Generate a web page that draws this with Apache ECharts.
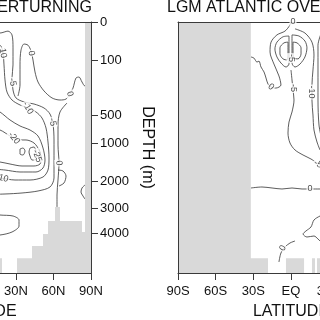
<!DOCTYPE html>
<html><head><meta charset="utf-8">
<script src="https://cdn.jsdelivr.net/npm/echarts@6.0.0/dist/echarts.min.js"></script>
<style>html,body{margin:0;padding:0;background:#fff}#c{width:320px;height:320px}</style>
</head><body><div id="c"></div>
<script>
// ---- axis ticks ----
const latTicks = [-90, -60, -30, 0, 30, 60, 90];
const latTickLabels = ['90S', '60S', '30S', 'EQ', '30N', '60N', '90N'];
const depthTicks = [0, 100, 500, 1000, 2000, 3000, 4000];
const depthTickLabels = ['0', '100', '500', '1000', '2000', '3000', '4000'];
// stretched depth axis (upper ocean expanded)
const stretchDepth = [0, 100, 500, 1000, 2000, 3000, 4000, 5500];
const stretchPos = [0, 38, 93, 121, 159, 186, 211, 251];

// ---- titles ----
const titlePD = 'PD ATLANTIC OVERTURNING';
const titleLGM = 'LGM ATLANTIC OVERTURNING';

// ---- bottom topography / land (lat edges, depth per interval) ----
const pdTopoLat = [10, 18.8, 30.8, 42.8, 51.6, 55.6, 61.2, 65.2, 82.8, 85.2, 90];
const pdTopoDepth = [4950, 5500, 4950, 4490, 4040, 3520, 2960, 3520, 3960, 0];
const lgmTopoLat = [-90, -32, -18.3, -4, 10.4, 16.7, 19.1, 20.7, 40];
const lgmTopoDepth = [0, 4950, 5500, 4950, 5500, 4950, 5500, 4950];

// ---- PD streamfunction contours [lat, depth m] ----
const pdZeroUpper = [[31.6,362],[33.2,282],[33.2,136],[34,74],[36.4,58],[39.6,61],[42,76],[43.6,100],[45.2,187],[47.6,260],[52.4,325],[58.8,376],[65.2,391],[70,384],[73.2,347],[75.6,304],[78,231],[80.4,224],[82.8,260],[85.2,289],[89.2,289]];
const pdZeroEast = [[70.8,413],[65.2,478],[63.6,679],[63.6,1053],[64.4,1526],[63.6,1974],[62.8,2518],[62.8,3080]];
const pdMinus5 = [[1.2,24],[17.2,29],[23.6,24],[26.8,34],[27.6,68],[27.6,136],[26.8,231],[27.6,318],[30,376],[36.4,405],[44.4,420],[52.4,449],[57.2,493],[59.6,661],[60.4,946],[60.4,1447],[60.4,1921],[57.2,2222],[47.6,2370],[34.8,2444],[21.2,2481],[-6.8,2518]];
const pdMinus10 = [[1.2,47],[17.2,61],[19.6,82],[20.4,136],[21.2,245],[22.8,333],[26.8,391],[33.2,427],[39.6,449],[46,478],[50.8,554],[54,732],[55.6,982],[56.4,1395],[55.6,1711],[51.6,1895],[41.2,1974],[29.2,1974],[17.2,1921],[-6.8,1895]];
const pdMinus15 = [[1.2,391],[17.2,478],[25.2,589],[33.2,696],[41.2,768],[47.6,875],[51.6,1132],[53.2,1447],[51.6,1658],[46,1763],[33.2,1763],[21.2,1711],[1.2,1658]];
const pdMinus20 = [[1.2,679],[17.2,768],[25.2,875],[31.6,946],[38,946],[44.4,1000],[48.4,1184],[50,1395],[49.2,1553],[44.4,1605],[34.8,1605],[25.2,1553],[17.2,1500],[1.2,1447]];
const pdMinus25 = [[41.2,1132],[44.4,1105],[46,1211],[46.8,1342],[45.2,1447],[42.8,1447],[41.2,1342],[40.4,1237],[41.2,1132]];
const pdSmallLoop = [[33.2,1158],[35.6,1132],[37.2,1211],[35.6,1316],[33.2,1289],[33.2,1158]];
const pdDeepCell = [[1.2,3160],[17.2,3280],[27.6,3320],[32.4,3480],[32.4,3720],[26.8,3960],[17.2,4075],[1.2,4113]];
const pdEastArc = [[85.2,2148],[82.8,2259],[82,2407],[83.6,2556],[85.2,2667]];
const pdZeroBranch = [[63.6,1711],[67.6,1737],[70,1868],[68.4,2074],[64.4,2185]];

const pdLabelLat = [19.6, 27.2, 42.4, 39.6, 59.2, 73.2, 28.4, 46.8, 64.4, 18.8];
const pdLabelDepth = [82, 260, 82, 449, 625, 347, 911, 1342, 1526, 1921];
const pdLabelText = ['10', '-5', '0', '-10', '-5', '0', '-20', '-25', '0', '-10'];

// ---- LGM streamfunction contours [lat, depth m] ----
const lgmZeroUpper = [[-31.9,92],[-29.5,95],[-27.1,115],[-25.5,108],[-23.9,151],[-21.5,187],[-19.9,231],[-18.3,275],[-15.9,296],[-12,304],[-8,282],[-9.6,216],[-13.6,129],[-16.7,79],[-15.9,53],[-11.2,34],[-4.8,24],[-0.8,8],[0,0]];
const lgmLeftOuter = [[-1.6,37],[-6.4,39],[-11.2,53],[-12.8,71],[-11.2,92],[-8,122],[-4,151],[-1.6,129],[-1.6,74],[-1.6,37]];
const lgmLeftInner = [[-2.4,53],[-5.6,55],[-8.8,68],[-8.8,84],[-6.4,97],[-3.2,100],[-2.4,79],[-2.4,53]];
const lgmRightOuter = [[0.8,34],[6.4,37],[11.1,50],[12.7,68],[11.1,92],[7.2,129],[3.2,151],[0.8,122],[0.8,74],[0.8,34]];
const lgmRightInner = [[1.6,53],[4.8,55],[8,68],[8,84],[5.6,97],[2.4,95],[1.6,74],[1.6,53]];
const lgmMinus5 = [[0,173],[0.8,245],[1.6,318],[2.4,391],[0.8,478],[-1.6,625],[-2.4,821],[-0.8,1000],[3.2,1184],[9.6,1316],[15.9,1421],[23.1,1579]];
const lgmMinus10 = [[3.2,18],[11.1,29],[16.7,53],[18.3,87],[17.5,173],[16.7,282],[16.7,391],[17.5,500],[18.3,768],[20.7,982],[23.1,1184]];
const lgmFarRight = [[24,30],[21.5,61],[21.5,173],[21.5,391],[22.3,679],[24.6,946]];
const lgmZeroMid = [[-31.9,2259],[-23.1,2222],[-15.1,2259],[-7.2,2296],[0.8,2259],[8.8,2296],[16.7,2296],[27.1,2296]];
const lgmBlob = [[27.1,3240],[23.1,3320],[18.3,3480],[15.9,3760],[11.9,3920],[9.6,4038],[12.7,4150],[18.3,4113],[21.5,4225],[24.7,4375]];
const lgmZeroDeep = [[-9.6,5088],[-8,4750],[-4.8,4525],[-0.8,4375],[3.2,4300]];

const lgmLabelLat = [1.6, -15.9, 0, 1.6, 16.7, 15.1, -6.4, 21.5];
const lgmLabelDepth = [0, 296, 95, 304, 333, 2296, 4563, 1553];
const lgmLabelText = ['0', '0', '-5', '-5', '-10', '0', '0', '-5'];

// ---- styles ----
const pdLabelRot = [-80, -80, -80, -60, -80, -70, -50, -70, -85, -15];
const lgmLabelRot = [0, -40, -90, -90, -90, 0, 60, -30];
const FONT = "'Liberation Sans', Arial, Helvetica, sans-serif";
const INK = '#111';
const FRAME = '#3a3a3a';
const LAND = '#d9d9d9';
const LINE = '#333';

function sPos(d) {
  for (let i = 1; i < stretchDepth.length; i++) {
    if (d <= stretchDepth[i]) {
      const t = (d - stretchDepth[i - 1]) / (stretchDepth[i] - stretchDepth[i - 1]);
      return stretchPos[i - 1] + t * (stretchPos[i] - stretchPos[i - 1]);
    }
  }
  return stretchPos[stretchPos.length - 1];
}
const depthTickPos = depthTicks.map(sPos);
function depthLabel(v) {
  for (let i = 0; i < depthTickPos.length; i++) if (Math.abs(depthTickPos[i] - v) < 0.01) return depthTickLabels[i];
  return '';
}
function latLabel(v) {
  const i = latTicks.indexOf(Math.round(v));
  return i >= 0 ? latTickLabels[i] : '';
}
function stepPoints(edges, depths) {
  const pts = [];
  for (let i = 0; i < depths.length; i++) {
    pts.push([edges[i], sPos(depths[i])]);
    pts.push([edges[i + 1], sPos(depths[i])]);
  }
  return pts;
}
function contour(pts, xi, yi) {
  return {
    type: 'line', xAxisIndex: xi, yAxisIndex: yi, silent: true,
    data: pts.map(p => [p[0], sPos(p[1])]),
    symbol: 'none', smooth: 0.3, clip: true,
    lineStyle: { color: LINE, width: 0.8 }, z: 3
  };
}
function topo(edges, depths, xi, yi) {
  return {
    type: 'line', xAxisIndex: xi, yAxisIndex: yi, silent: true,
    data: stepPoints(edges, depths), symbol: 'none',
    lineStyle: { width: 0, opacity: 0 },
    areaStyle: { color: LAND, opacity: 1, origin: 'end' }, z: 5
  };
}
function labels(lat, dep, txt, rot, xi, yi) {
  return {
    type: 'scatter', xAxisIndex: xi, yAxisIndex: yi, silent: true, symbolSize: 1,
    itemStyle: { color: 'rgba(0,0,0,0)' },
    data: lat.map((v, i) => ({ name: txt[i], value: [v, sPos(dep[i])], label: { rotate: rot[i] } })),
    label: { show: true, position: 'inside', formatter: '{b}', fontSize: 9, color: '#222',
      fontFamily: FONT, backgroundColor: '#fff', padding: [0, 1] },
    z: 12
  };
}
function bottomAxis(gi) {
  return {
    gridIndex: gi, type: 'value', position: 'bottom', min: -90, max: 90, interval: 30,
    axisLine: { show: true, onZero: false, lineStyle: { color: FRAME, width: 1 } },
    axisTick: { show: true, inside: false, length: 7, lineStyle: { color: FRAME } },
    axisLabel: { show: true, margin: 12, formatter: latLabel, fontSize: 13, color: INK, fontFamily: FONT },
    splitLine: { show: false },
    name: 'LATITUDE', nameLocation: 'middle', nameGap: 31,
    nameTextStyle: { fontSize: 16, color: INK, fontFamily: FONT }, z: 10
  };
}
function topAxis(gi) {
  return {
    gridIndex: gi, type: 'value', position: 'top', min: -90, max: 90, interval: 30,
    axisLine: { show: true, onZero: false, lineStyle: { color: FRAME, width: 1 } },
    axisTick: { show: false }, axisLabel: { show: false }, splitLine: { show: false }, z: 10
  };
}

const chart = echarts.init(document.getElementById('c'), null, { renderer: 'canvas' });
chart.setOption({
  animation: false,
  backgroundColor: '#fff',
  title: [
    { text: titlePD, right: 228, top: 0, padding: 0,
      textStyle: { fontSize: 16, fontWeight: 'normal', color: INK, fontFamily: FONT } },
    { text: titleLGM, left: 167, top: 0, padding: 0,
      textStyle: { fontSize: 16, fontWeight: 'normal', color: INK, fontFamily: FONT } }
  ],
  grid: [
    { left: -134, top: 22, width: 225, height: 251, show: false, containLabel: false, outerBoundsMode: 'none' },
    { left: 178, top: 22, width: 226, height: 251, show: false, containLabel: false, outerBoundsMode: 'none' }
  ],
  xAxis: [bottomAxis(0), topAxis(0), bottomAxis(1), topAxis(1)],
  yAxis: [
    { gridIndex: 0, type: 'value', position: 'right', inverse: true, min: 0, max: 251,
      axisLine: { show: true, onZero: false, lineStyle: { color: FRAME, width: 1 } },
      axisTick: { show: true, inside: false, length: 7, customValues: depthTickPos, lineStyle: { color: FRAME } },
      axisLabel: { show: true, margin: 9, customValues: depthTickPos, formatter: depthLabel,
        fontSize: 13, color: INK, fontFamily: FONT },
      splitLine: { show: false },
      name: 'DEPTH (m)', nameLocation: 'middle', nameRotate: -90, nameGap: 48,
      nameTextStyle: { fontSize: 16, color: INK, fontFamily: FONT }, z: 10 },
    { gridIndex: 1, type: 'value', position: 'left', inverse: true, min: 0, max: 251,
      axisLine: { show: true, onZero: false, lineStyle: { color: FRAME, width: 1 } },
      axisTick: { show: false }, axisLabel: { show: false }, splitLine: { show: false }, z: 10 }
  ],
  series: [
    contour(pdZeroUpper, 0, 0), contour(pdZeroEast, 0, 0), contour(pdMinus5, 0, 0),
    contour(pdMinus10, 0, 0), contour(pdMinus15, 0, 0), contour(pdMinus20, 0, 0),
    contour(pdMinus25, 0, 0), contour(pdSmallLoop, 0, 0), contour(pdDeepCell, 0, 0),
    contour(pdEastArc, 0, 0), contour(pdZeroBranch, 0, 0),
    topo(pdTopoLat, pdTopoDepth, 0, 0),
    labels(pdLabelLat, pdLabelDepth, pdLabelText, pdLabelRot, 0, 0),
    contour(lgmZeroUpper, 2, 1), contour(lgmLeftOuter, 2, 1), contour(lgmLeftInner, 2, 1),
    contour(lgmRightOuter, 2, 1), contour(lgmRightInner, 2, 1), contour(lgmMinus5, 2, 1),
    contour(lgmMinus10, 2, 1), contour(lgmFarRight, 2, 1), contour(lgmZeroMid, 2, 1),
    contour(lgmBlob, 2, 1), contour(lgmZeroDeep, 2, 1),
    topo(lgmTopoLat, lgmTopoDepth, 2, 1),
    labels(lgmLabelLat, lgmLabelDepth, lgmLabelText, lgmLabelRot, 2, 1)
  ]
});
</script>
</body></html>
